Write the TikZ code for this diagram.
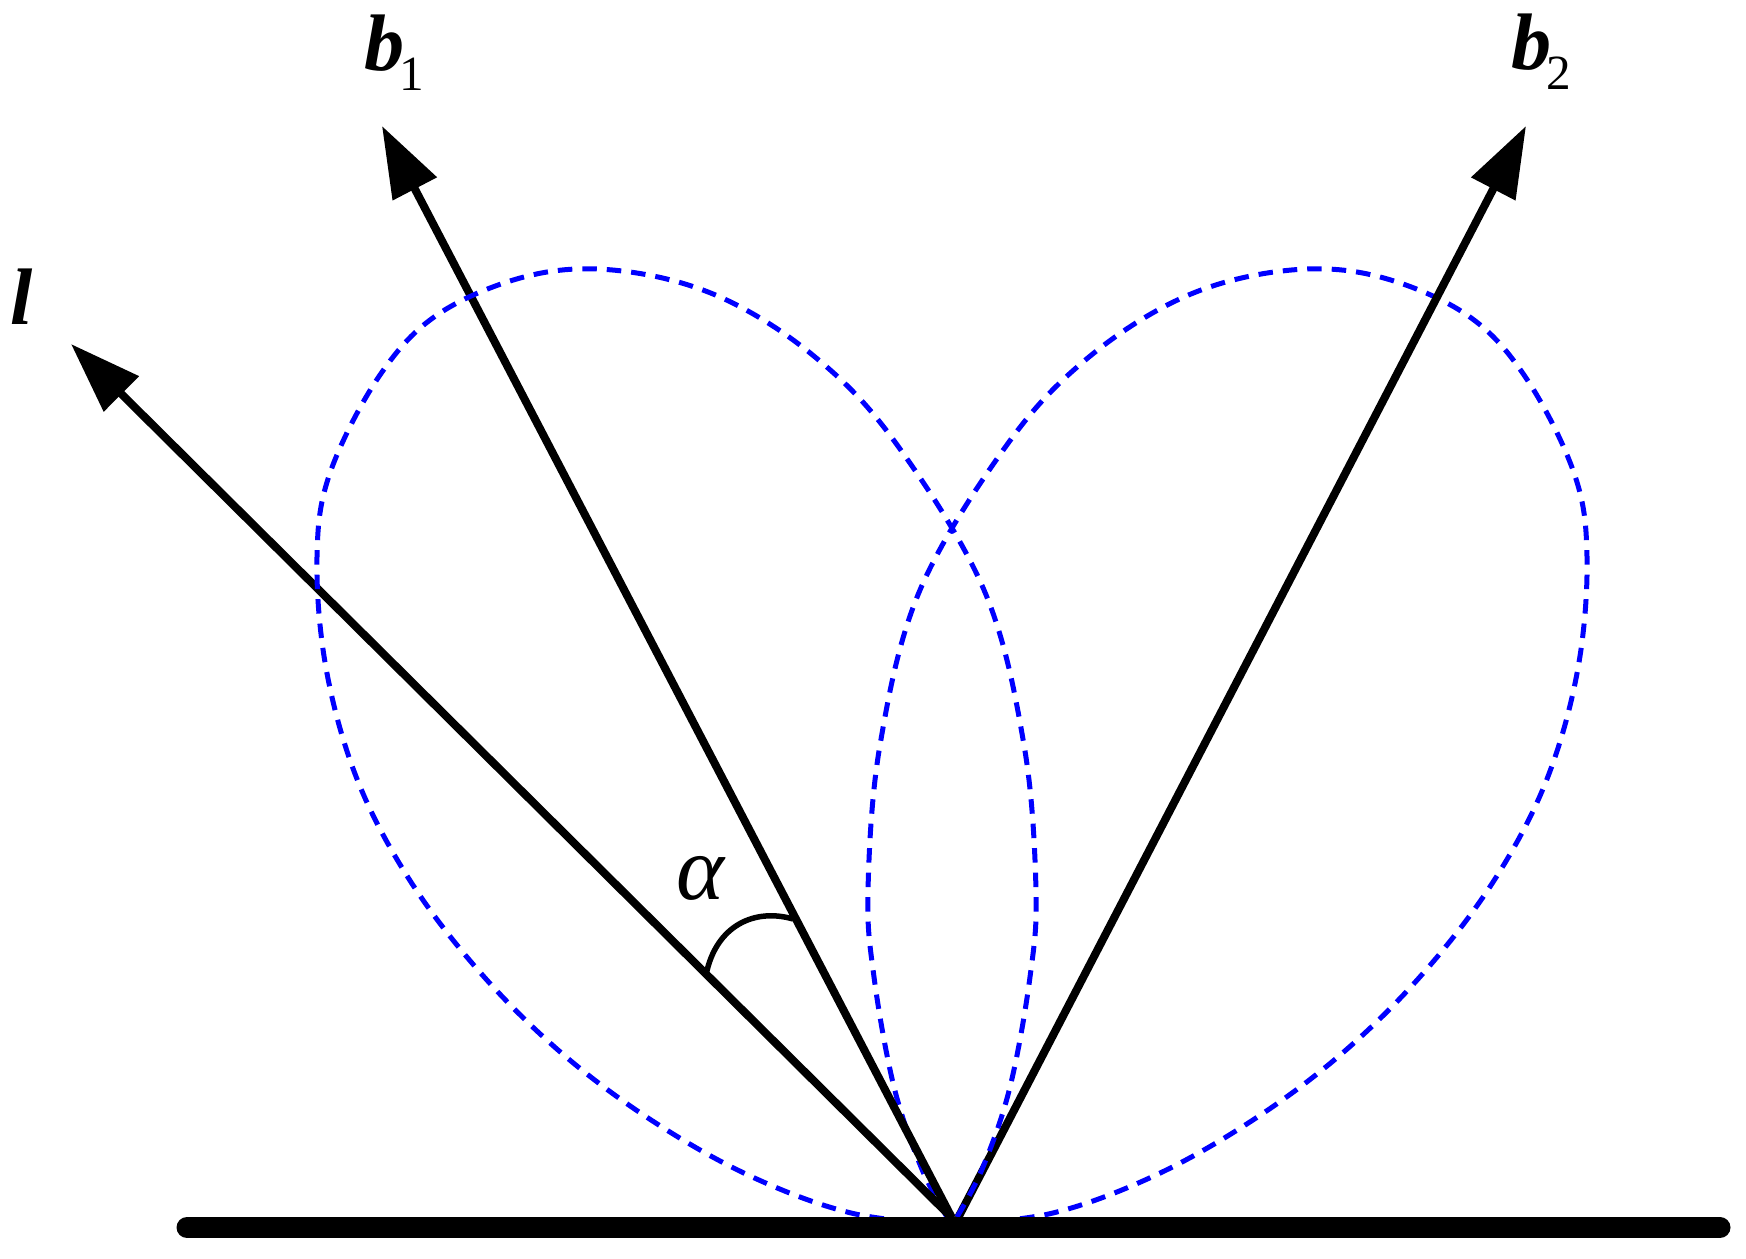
\documentclass[tikz,border=0pt]{standalone}
\usepackage{fontspec}
\setmainfont{Liberation Serif}
\usetikzlibrary{arrows.meta}
\tikzset{
	ray/.style={line width=0.08cm,-{Triangle[length=0.71cm,width=0.48cm]}},
	lobe/.style={blue,line width=0.05cm,dash pattern=on 0.145cm off 0.10cm},
	vectxt/.style={anchor=base west,inner sep=0pt,font=\fontsize{22.8}{24}\selectfont\bfseries\itshape},
}
\newcommand{\subidx}[1]{\raisebox{-0.2cm}{\fontsize{14}{15}\selectfont\mdseries\upshape #1}}
\newcommand{\lobecurve}{plot[smooth,tension=0.6] coordinates {(.05,.01) (.31,.51) (.58,1.31) (.78,2.41) (.84,3.28) (.72,4.73) (.32,6.28) (-.57,7.76) (-1.37,8.61) (-2.32,9.21) (-3.3,9.47) (-4.2,9.43) (-5.12,9.05) (-5.72,8.43) (-6.22,7.45) (-6.35,6.61) (-6.26,5.50) (-5.95,4.39) (-5.43,3.39) (-4.74,2.48) (-3.94,1.68) (-3.04,1.00) (-2.04,.43) (-1.01,.05) (0,-.07)}}
\begin{document}
\begin{tikzpicture}
			\useasboundingbox (0,0) rectangle (17.46,12.59);
			\coordinate (O) at (9.52,0.41);
			\coordinate (Oright) at (9.58,0.41);
			\coordinate (L) at (0.71,9.15);
			\coordinate (B1) at (3.82,11.33);
			\coordinate (B2) at (15.26,11.33);
			\coordinate (baseleft) at (1.87,0.315);
			\coordinate (baseright) at (17.20,0.315);
			\coordinate (arcl) at (7.06,2.84);
			\coordinate (arcb) at (7.93,3.40);
			\draw[lobe,shift={(O)},xscale=-1] \lobecurve;
			\draw[ray] (O)--(L);
			\draw[ray] (O)--(B1);
			\draw[ray] (Oright)--(B2);
			\draw[lobe,shift={(O)}] \lobecurve;
			\draw[line width=0.21cm,line cap=round] (baseleft)--(baseright);
			\draw[line width=0.055cm] (arcl) .. controls (7.16,3.34) and (7.55,3.51) .. (arcb);
			\node[vectxt] (labell) at (0.10,9.34) {l};
			\node[vectxt] (labelb1) at (3.64,11.88) {b\kern-0.05cm\subidx{1}};
			\node[vectxt] (labelb2) at (15.11,11.89) {b\kern-0.05cm\subidx{2}};
			\node[anchor=base west,inner sep=0pt,font=\fontsize{26}{28}\selectfont\itshape] (labelalpha) at (6.76,3.59) {α};
\end{tikzpicture}
\end{document}
